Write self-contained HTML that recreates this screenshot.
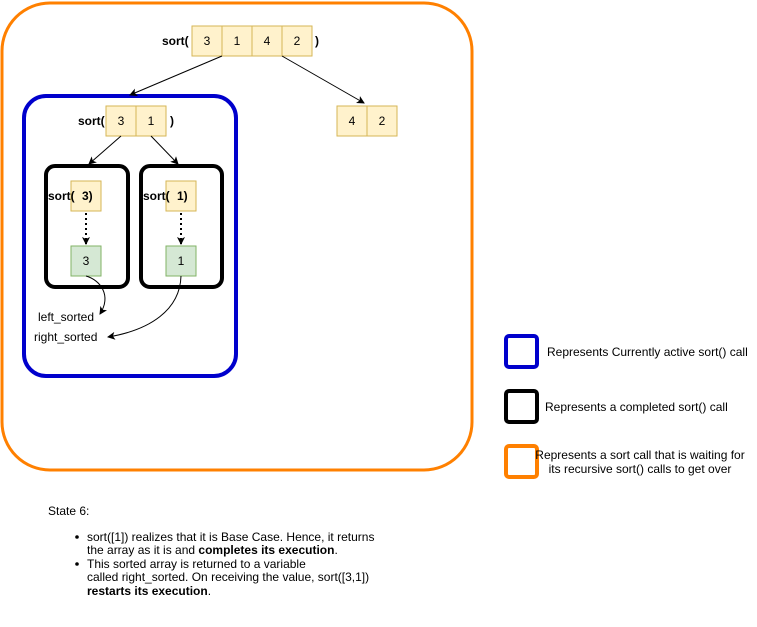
<!DOCTYPE html>
<html><head><style>body{margin:0;background:#fff}svg{display:block}text{font-family:"Liberation Sans",Arial,sans-serif;font-size:12px;fill:#000}</style></head>
<body>
<svg width="757" height="627" viewBox="0 0 757 627" xmlns="http://www.w3.org/2000/svg">
<defs><marker id="a" markerWidth="8" markerHeight="8" refX="7" refY="4" orient="auto" markerUnits="userSpaceOnUse"><path d="M0,0 L8,4 L0,8 L2,4z" fill="#000"/></marker></defs>
<rect x="2" y="3" width="470" height="467" rx="48" fill="none" stroke="#FF8000" stroke-width="3"/>
<rect x="24" y="96" width="212" height="280" rx="22" fill="none" stroke="#0000CC" stroke-width="4"/>
<rect x="46" y="166" width="82" height="121" rx="9" fill="none" stroke="#000" stroke-width="4"/>
<rect x="141" y="166" width="81" height="121" rx="9" fill="none" stroke="#000" stroke-width="4"/>
<g fill="#FFF2CC" stroke="#D6B656">
<rect x="192" y="26" width="30" height="30"/><rect x="222" y="26" width="30" height="30"/><rect x="252" y="26" width="30" height="30"/><rect x="282" y="26" width="30" height="30"/>
<rect x="337" y="106" width="30" height="30"/><rect x="367" y="106" width="30" height="30"/>
<rect x="106" y="106" width="30" height="30"/><rect x="136" y="106" width="30" height="30"/>
<rect x="71" y="181" width="30" height="30"/><rect x="166" y="181" width="30" height="30"/>
</g>
<g fill="#D5E8D4" stroke="#82B366"><rect x="71" y="246" width="30" height="30"/><rect x="166" y="246" width="30" height="30"/></g>
<g text-anchor="middle">
<text x="207" y="45">3</text><text x="237" y="45">1</text><text x="267" y="45">4</text><text x="297" y="45">2</text>
<text x="352" y="125">4</text><text x="382" y="125">2</text>
<text x="121" y="125">3</text><text x="151" y="125">1</text>
<text x="86" y="265">3</text><text x="181" y="265">1</text>
</g>
<g font-weight="bold"><text x="162" y="45" style="font-weight:bold">sort(</text><text x="315" y="45" style="font-weight:bold">)</text>
<text x="78" y="125" style="font-weight:bold">sort(</text><text x="170" y="125" style="font-weight:bold">)</text>
<text x="48" y="200" style="font-weight:bold">sort(</text><text x="82" y="200" style="font-weight:bold">3)</text>
<text x="143" y="200" style="font-weight:bold">sort(</text><text x="177" y="200" style="font-weight:bold">1)</text></g>
<g stroke="#000" fill="none">
<line x1="222" y1="56" x2="130" y2="95" marker-end="url(#a)"/>
<line x1="282" y1="56" x2="364" y2="103" marker-end="url(#a)"/>
<line x1="121" y1="136" x2="89" y2="164" marker-end="url(#a)"/>
<line x1="151" y1="136" x2="178" y2="164" marker-end="url(#a)"/>
<line x1="86" y1="213" x2="86" y2="244" stroke-width="2" stroke-dasharray="2,3" marker-end="url(#a)"/>
<line x1="181" y1="213" x2="181" y2="244" stroke-width="2" stroke-dasharray="2,3" marker-end="url(#a)"/>
<path d="M86,276 C100,280 112,295 100,314" marker-end="url(#a)"/>
<path d="M181,276 C180,310 150,330 108,337" marker-end="url(#a)"/>
</g>
<text x="38" y="321">left_sorted</text>
<text x="34" y="341">right_sorted</text>
<rect x="506" y="336" width="31" height="31" rx="3" fill="none" stroke="#0000CC" stroke-width="4"/>
<rect x="506" y="391" width="31" height="31" rx="3" fill="none" stroke="#000" stroke-width="4"/>
<rect x="506" y="446" width="31" height="31" rx="3" fill="none" stroke="#FF8000" stroke-width="4"/>
<text x="547" y="356" font-size="11.5">Represents Currently active sort() call</text>
<text x="545" y="411" font-size="11.5">Represents a completed sort() call</text>
<text x="640" y="459" text-anchor="middle" font-size="11.5">Represents a sort call that is waiting for</text>
<text x="640" y="473" text-anchor="middle" font-size="11.5">its recursive sort() calls to get over</text>
<g font-size="11">
<text x="48" y="515">State 6:</text>
<circle cx="77" cy="537" r="1.8"/><circle cx="77" cy="564" r="1.8"/>
<text x="87" y="541">sort([1]) realizes that it is Base Case. Hence, it returns</text>
<text x="87" y="554">the array as it is and <tspan style="font-weight:bold">completes its execution</tspan>.</text>
<text x="87" y="568">This sorted array is returned to a variable</text>
<text x="87" y="581">called right_sorted. On receiving the value, sort([3,1])</text>
<text x="87" y="595" style="font-weight:bold">restarts its execution<tspan style="font-weight:normal">.</tspan></text>
</g>
</svg>
</body></html>
